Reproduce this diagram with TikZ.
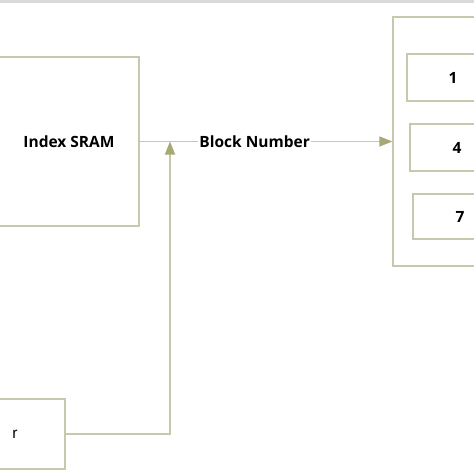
\documentclass[tikz,border=0pt]{standalone}
\usepackage{fontspec}
\setmainfont{Open Sans}
\newfontfamily\plainsans{Liberation Sans}
\usepackage{tikz}
\usetikzlibrary{arrows.meta,positioning,calc}

\definecolor{boxline}{RGB}{200,200,172}
\definecolor{tipcol}{RGB}{168,168,118}
\definecolor{topbar}{RGB}{218,218,218}

\begin{document}
\begin{tikzpicture}[
  x=1pt, y=-1pt,
  font=\fontsize{15.5}{18}\selectfont\bfseries,
  blockbox/.style={draw=boxline, line width=1.4pt, fill=white, align=center, inner sep=0pt},
  arr/.style={draw=boxline, line width=1.4pt, -{Triangle[length=13pt,width=10pt,fill=tipcol,color=tipcol]}},
  wire/.style={draw=boxline, line width=1.4pt}
]
\clip (0,0) rectangle (474,474);
\fill[white] (0,0) rectangle (474,474);
\fill[topbar] (0,0) rectangle (474,2.5);
\node[blockbox, minimum width=140pt, minimum height=169pt] (sram) at (69,141.5) {Index SRAM};
\node[blockbox, minimum width=100pt, minimum height=70pt, font=\fontsize{15.5}{18}\selectfont\plainsans] (ctr) at (15,434) {r};
\node[blockbox, minimum width=97pt, minimum height=249pt] (mem) at (441.5,141.5) {};
\node[blockbox, minimum width=92pt, minimum height=47pt] (b1) at (453,77.5) {1};
\node[blockbox, minimum width=94pt, minimum height=47pt] (b4) at (457,147.5) {4};
\node[blockbox, minimum width=94pt, minimum height=45pt] (b7) at (460,216.5) {7};
\coordinate (jn) at (170,141.5);
\draw[arr] (sram.east) -- node[pos=0.455, fill=white, inner sep=1pt] (lbl) {Block Number} (mem.west);
\draw[arr] (ctr.east) -| (jn);
\end{tikzpicture}
\end{document}
